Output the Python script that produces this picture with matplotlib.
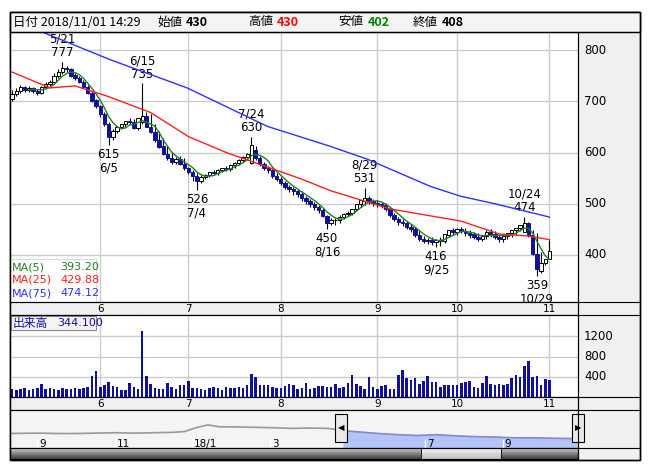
import matplotlib.pyplot as plt
import matplotlib.patches as mpatches
import numpy as np

plt.rcParams['font.family'] = ['Noto Sans CJK JP', 'DejaVu Sans']

W, H = 652, 469

# ---- daily candles (2018/05/01 .. 2018/11/01), index = trading day
opens = [705,714,720,728,722,726,720,716,727,733,738,750,757,765,762,752,746,738,728,716,702,
         690,676,655,630,642,650,655,662,660,648,660,672,650,640,625,612,598,590,582,588,578,
         570,562,555,545,552,556,562,560,566,570,568,575,580,585,592,580,605,590,578,570,565,555,
         548,540,532,528,524,520,512,505,500,494,488,476,462,468,468,475,480,482,490,500,505,512,505,
         502,500,498,490,478,470,465,462,455,450,440,432,428,430,425,430,428,440,448,
         445,450,446,442,440,436,432,438,445,440,436,432,438,442,448,452,445,462,440,402,368,385,
         392]
closes = [715,720,728,722,726,720,716,727,733,738,750,757,765,762,750,745,738,728,716,700,690,
          675,655,630,642,650,655,662,660,648,668,672,650,640,625,610,598,590,582,588,578,570,
          562,555,545,552,556,562,560,566,570,568,575,580,585,592,598,615,590,578,570,565,555,548,
          540,532,528,524,520,512,505,500,494,488,476,462,468,468,475,480,482,490,500,508,512,505,502,
          500,498,490,478,470,465,462,455,450,440,432,428,430,425,430,428,440,448,445,
          450,446,442,440,436,432,438,445,440,436,432,438,442,448,452,458,462,440,402,372,385,392,
          408]
highs = [722,725,732,730,730,728,724,730,738,742,755,762,777,768,765,755,750,742,732,720,705,
         692,680,660,645,648,655,660,668,666,662,735,680,676,655,642,628,612,600,592,594,590,
         572,566,560,556,558,562,566,568,570,574,578,582,588,594,600,630,612,594,582,574,568,560,
         552,544,536,532,528,524,516,510,504,498,492,478,472,472,478,482,486,488,495,505,531,515,510,
         508,504,502,494,482,474,470,466,460,454,446,438,434,436,432,436,440,445,452,
         452,455,452,448,444,442,440,448,450,446,440,438,442,446,452,458,474,465,448,442,405,392,
         430]
lows = [700,710,716,718,718,716,712,714,724,730,736,746,754,758,748,742,736,726,714,698,686,
        670,652,615,625,638,646,650,656,646,644,656,650,638,620,608,596,586,578,578,576,566,
        558,545,526,540,548,552,556,556,562,564,564,570,576,582,590,578,586,574,566,560,550,545,
        536,528,522,518,514,506,500,494,488,482,474,450,458,458,462,470,476,478,486,494,498,500,496,
        494,492,486,474,466,458,456,450,444,436,428,424,422,420,416,418,424,436,440,
        440,442,438,434,432,428,428,432,436,432,426,426,432,436,440,446,448,436,400,359,365,380,
        402]
volume = [150,130,150,170,140,150,170,260,160,170,150,140,170,150,160,170,160,180,200,420,520,
          190,240,300,220,190,140,140,280,200,150,1300,420,260,170,160,160,280,200,160,240,230,
          310,180,180,160,140,180,200,170,140,190,170,170,200,180,240,460,400,240,230,240,190,180,
          170,220,250,240,160,180,280,160,170,220,210,200,190,260,170,190,280,430,250,220,160,400,200,
          150,220,240,150,160,440,540,370,330,380,260,310,420,300,300,190,230,240,240,
          230,270,290,310,200,170,280,420,250,240,250,230,260,380,440,390,620,720,390,420,240,350,
          344]

# moving averages (index, value)
ma25_idx = [0, 9, 15, 23, 33, 42, 51, 69, 76, 90, 107, 116, 123, 128]
ma25_val = [757, 726, 730, 709, 678, 631, 600, 548, 525, 490, 466, 441, 437, 430]
ma75_idx = [6, 23.4, 41.7, 60.8, 75.8, 84.6, 99.6, 106.7, 115.5, 128]
ma75_val = [839, 781, 726, 651, 612, 587, 534, 515, 499, 474]

month_idx = [21, 42, 64, 87, 106, 128]
month_lbl = ['6', '7', '8', '9', '10', '11']

annots = [(12, 'hi', '5/21\n777'), (23, 'lo', '615\n6/5'), (31, 'hi', '6/15\n735'),
          (44, 'lo', '526\n7/4'), (57, 'hi', '7/24\n630'), (75, 'lo', '450\n8/16'),
          (84, 'hi', '8/29\n531'), (101, 'lo', '416\n9/25'), (122, 'hi', '10/24\n474'),
          (125, 'lo', '359\n10/29')]

# navigator (month offset from 2017/09, level)
nav_m = [-0.7,0,0.5,1,1.5,2,2.5,3,3.5,3.8,4.1,4.4,4.7,5,5.5,6,6.3,6.6,7,7.5,7.9,8.3,8.8,9.3,9.8,
         10.3,10.8,11.3,11.8,12.3,12.8,13.3,13.9]
nav_lv = [33,34,33,33,34,35,34,35,36,38,48,55,50,50,49,48,47,46,47,46,40,37,33,30,28,30,27,25,24,
          22,22,21,20]
nav_tick_m = [0, 2, 4, 6, 10, 12]
nav_tick_lbl = ['9', '11', '18/1', '3', '7', '9']


def box(l, t, r, b):
    return [l / W, 1 - b / H, (r - l) / W, (b - t) / H]


fig = plt.figure(figsize=(W / 100, H / 100), dpi=100, facecolor='white')
bg = fig.add_axes([0, 0, 1, 1])
bg.set_xlim(0, W); bg.set_ylim(H, 0); bg.axis('off')
bg.add_patch(mpatches.Rectangle((10, 12), 630, 448, fc='#f0f0f0', ec='black', lw=1))

x = np.arange(len(closes))
xlim = (-0.5, 134.8)
PTOP, PBOT = 32, 302
py = lambda v: 50 + (800 - v) * 0.5125

# ---- price panel
ax = fig.add_axes(box(10, PTOP, 578, PBOT))
ax.set_xlim(*xlim); ax.set_ylim(800 - (PBOT - 50) / 0.5125, 800 + 18 / 0.5125)
for v in [400, 500, 600, 700, 800]:
    ax.axhline(v, color='#cccccc', lw=1, zorder=0)
for m in month_idx:
    ax.axvline(m, color='#cccccc', lw=1, zorder=0)
o = np.array(opens); c = np.array(closes)
ax.vlines(x, lows, highs, color='black', lw=0.8, zorder=2)
up = c >= o
ax.bar(x[up], np.maximum(c[up] - o[up], 1), bottom=o[up], width=0.8, color='white',
       edgecolor='black', lw=0.7, zorder=3)
ax.bar(x[~up], o[~up] - c[~up], bottom=c[~up], width=0.8, color='#10109a',
       edgecolor='#10109a', lw=0.7, zorder=3)
ma5 = np.convolve(c, np.ones(5) / 5, mode='valid')
ax.plot(x[4:], ma5, color='#208020', lw=1, zorder=4)
ax.plot(ma25_idx, ma25_val, color='#ff2020', lw=1, zorder=4)
ax.plot(ma75_idx, ma75_val, color='#3030ff', lw=1, zorder=4)
for i, kind, s in annots:
    if kind == 'hi':
        ax.annotate(s, (i, highs[i]), xytext=(0, 2), textcoords='offset points', ha='center',
                    va='bottom', fontsize=8.5, linespacing=1.05, family='DejaVu Sans')
    else:
        ax.annotate(s, (i, lows[i]), xytext=(0, -2), textcoords='offset points', ha='center',
                    va='top', fontsize=8.5, linespacing=1.05, family='DejaVu Sans')
ax.set_xticks([]); ax.set_yticks([])
for sp in ax.spines.values():
    sp.set_linewidth(0.8)


def date_strip(t, b):
    s = fig.add_axes(box(10, t, 578, b))
    s.set_xlim(*xlim); s.set_ylim(0, 1)
    s.set_facecolor('#f0f0f0'); s.set_xticks([]); s.set_yticks([])
    for m, lab in zip(month_idx, month_lbl):
        s.text(m, 0.45, lab, ha='center', va='center', fontsize=7.5, family='DejaVu Sans')


date_strip(302, 315)

# ---- volume panel
av = fig.add_axes(box(10, 315, 578, 397))
av.set_xlim(*xlim); av.set_ylim(0, 1620)
for v in [400, 800, 1200]:
    av.axhline(v, color='#cccccc', lw=1, zorder=0)
for m in month_idx:
    av.axvline(m, color='#cccccc', lw=1, zorder=0)
av.bar(x, volume, width=0.6, color='#10109a', zorder=2)
av.set_xticks([]); av.set_yticks([])

date_strip(397, 410)

# ---- navigator
an = fig.add_axes(box(10, 410, 578, 448))
an.set_xlim(-0.7, 13.94); an.set_ylim(-4, 93)
an.set_facecolor('#f4f4f4')
nm = np.array(nav_m); nl = np.array(nav_lv)
sel = nm >= 7.8
an.fill_between(nm[sel], -4, nl[sel], color='#b4c4fa', zorder=1)
an.plot(nm[nm <= 7.9], nl[nm <= 7.9], color='#999999', lw=1.2, zorder=2)
an.plot(nm[sel], nl[sel], color='#8888c8', lw=1.2, zorder=2)
for m, lab in zip(nav_tick_m, nav_tick_lbl):
    an.vlines(m, -4, 20, color='white', lw=1, zorder=3)
    an.text(m + 0.05, 5, lab, fontsize=7.5, va='center', family='DejaVu Sans', zorder=4)
an.set_xticks([]); an.set_yticks([])

# scroll bar
sb = fig.add_axes(box(10, 448, 578, 459))
sb.imshow(np.linspace(0.85, 0.25, 20).reshape(-1, 1), cmap='gray', aspect='auto',
          extent=(0, 1, 0, 1), vmin=0, vmax=1)
sb.imshow(np.linspace(0.97, 0.75, 20).reshape(-1, 1), cmap='gray', aspect='auto',
          extent=(0.724, 0.864, 0, 1), vmin=0, vmax=1)
sb.set_xlim(0, 1); sb.set_ylim(0, 1)
sb.set_xticks([]); sb.set_yticks([])
sb.axvline(0.724, color='black', lw=0.6); sb.axvline(0.864, color='black', lw=0.6)

# ---- overlay: header, labels, legend boxes, handles
top = fig.add_axes([0, 0, 1, 1])
top.set_xlim(0, W); top.set_ylim(H, 0); top.axis('off')
top.add_patch(mpatches.Rectangle((10, 12), 630, 20, fc='#f4f4f4', ec='black', lw=1))
hdr = dict(fontsize=9, va='center')
top.text(13, 22, '日付 2018/11/01 14:29', **hdr)
top.text(157, 22, '始値', **hdr); top.text(186, 22, '430', fontweight='bold', **hdr)
top.text(248, 22, '高値', **hdr); top.text(277, 22, '430', color='red', fontweight='bold', **hdr)
top.text(338, 22, '安値', **hdr); top.text(368, 22, '402', color='green', fontweight='bold', **hdr)
top.text(413, 22, '終値', **hdr); top.text(442, 22, '408', fontweight='bold', **hdr)

for v in [400, 500, 600, 700, 800]:
    top.text(584, py(v), str(v), fontsize=8.5, va='center', family='DejaVu Sans')
for v in [400, 800, 1200]:
    top.text(584, 397 - v * 0.0505, str(v), fontsize=8.5, va='center', family='DejaVu Sans')

top.add_patch(mpatches.Rectangle((10, 259), 86, 43, fc='white', ec='#cccccc', lw=0.8, alpha=0.7))
for k, (lab, val, col) in enumerate([('MA(5)', '393.20', '#208020'), ('MA(25)', '429.88', '#ff2020'),
                                     ('MA(75)', '474.12', '#3030ff')]):
    top.text(12, 267 + k * 13, lab, color=col, fontsize=8, va='center', family='DejaVu Sans')
    top.text(60, 267 + k * 13, val, color=col, fontsize=8, va='center', family='DejaVu Sans')

top.add_patch(mpatches.Rectangle((11, 316), 85, 14, fc='#f4f4f4', ec='#888888', lw=0.8))
top.text(13, 323, '出来高', color='#1010a0', fontsize=8.5, va='center')
top.text(57, 323, '344.100', color='#1010a0', fontsize=8, va='center', family='DejaVu Sans')

for hx, tri in [(335, '◀'), (572, '▶')]:
    top.add_patch(mpatches.Rectangle((hx, 414), 12, 28, fc='#e8e8e8', ec='black', lw=0.8))
    top.text(hx + 6, 428, tri, fontsize=6, ha='center', va='center', family='DejaVu Sans')

for yy in [32, 302, 315, 397, 410, 448]:
    top.plot([10, 640], [yy, yy], color='black', lw=0.8)
top.plot([578, 578], [32, 459], color='black', lw=0.8)
top.add_patch(mpatches.Rectangle((10, 12), 630, 448, fc='none', ec='black', lw=1))

fig.savefig('out.png', dpi=100, facecolor='white')
